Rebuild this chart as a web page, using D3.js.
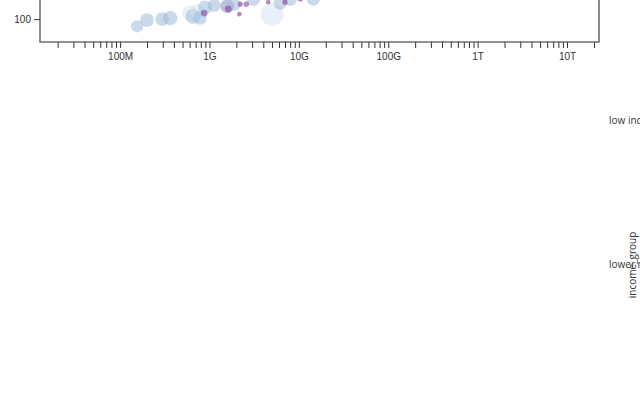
<!DOCTYPE html>
<html lang="en">
<head>
  <meta charset="UTF-8" />
  <title>GDP bubbles by income group</title>
  <style>
    html, body { margin: 0; padding: 0; background: #fff; overflow: hidden; }
    svg { display: block; font-family: "Open Sans", "Noto Sans", sans-serif; }
  </style>
</head>
<body>
  <script src="https://cdn.jsdelivr.net/npm/d3@7"></script>
  <script>
    // data (low income panel, lower part only visible)
    const gdp = [155e6, 200e6, 295e6, 363e6, 600e6, 656e6, 728e6, 780e6, 872e6, 894e6, 1.13e9, 1.58e9, 1.62e9,
      1.89e9, 2.21e9, 2.58e9, 2.16e9, 3.09e9, 4.54e9, 5.01e9, 6.2e9, 7.0e9, 8.0e9, 10.4e9, 14.5e9];
    const gdpPerCap = [79, 97, 100, 103, 122, 110, 130, 104, 122, 148, 158, 153, 140,
      164, 164, 164, 118, 193, 175, 118, 170, 175, 193, 193, 193];
    const population = [40e6, 50e6, 50e6, 55e6, 60e6, 60e6, 55e6, 50e6, 12e6, 50e6, 45e6, 50e6, 12e6,
      45e6, 7e6, 8e6, 6e6, 50e6, 6e6, 140e6, 45e6, 7e6, 50e6, 7e6, 45e6];
    const tone = ["b", "b", "b", "b", "l", "b", "l", "b", "p", "b", "b", "m", "p",
      "b", "p", "p", "p", "b", "p", "l", "b", "p", "b", "p", "b"];
    const xTicks = [1e8, 1e9, 1e10, 1e11, 1e12, 1e13];
    const xTickLabels = ["100M", "1G", "10G", "100G", "1T", "10T"];
    const yTicks = [100];
    const facets = ["low income", "lower middle income"];

    const width = 640, height = 400;
    const left = 40, right = 599, bottom = 42;

    const x = d3.scaleLog().domain([12.7e6, 22.8e12]).range([left, right]);
    const y = d3.scaleLog().domain([47, 100000]).range([bottom, bottom - 232]);
    const r = d3.scaleSqrt().domain([0, 140e6]).range([0, 11.5]);
    const color = d3.scaleOrdinal().domain(["l", "b", "m", "p"])
      .range(["#d6e2f0", "#9ebcda", "#8c96c6", "#88419d"]);
    const opacity = { l: 0.5, b: 0.55, m: 0.6, p: 0.6 };

    const svg = d3.select("body").append("svg")
      .attr("width", width).attr("height", height);

    const points = gdp.map((g, i) => ({ g, v: gdpPerCap[i], p: population[i], t: tone[i] }));

    svg.append("g")
      .selectAll("circle")
      .data(points.sort((a, b) => b.p - a.p))
      .join("circle")
      .attr("cx", d => x(d.g))
      .attr("cy", d => y(d.v))
      .attr("r", d => r(d.p))
      .attr("fill", d => color(d.t))
      .attr("fill-opacity", d => opacity[d.t]);

    // frame
    svg.append("path")
      .attr("d", `M${left},-5V${bottom}H${right}V-5`)
      .attr("fill", "none")
      .attr("stroke", "#707070")
      .attr("stroke-width", 1.6);

    // x axis, log ticks with minor marks
    const xAxis = d3.axisBottom(x)
      .tickValues(x.ticks().filter(t => t <= x.domain()[1]))
      .tickSize(6)
      .tickFormat(t => {
        const k = xTicks.indexOf(t);
        return k >= 0 ? xTickLabels[k] : "";
      });
    const gx = svg.append("g").attr("transform", `translate(0,${bottom})`).call(xAxis);
    gx.select(".domain").remove();
    gx.selectAll(".tick line").attr("stroke", "#333");
    gx.selectAll(".tick text").attr("font-size", 10).attr("fill", "#333").attr("dy", "0.9em");

    // y axis
    const yAxis = d3.axisLeft(y).tickValues(yTicks).tickSize(6).tickFormat(d3.format("d"));
    const gy = svg.append("g").attr("transform", `translate(${left},0)`).call(yAxis);
    gy.select(".domain").remove();
    gy.selectAll(".tick line").attr("stroke", "#333");
    gy.selectAll(".tick text").attr("font-size", 10).attr("fill", "#333");

    // facet labels on the right
    const fy = d3.scalePoint().domain(facets).range([121, 265]);
    svg.append("g")
      .selectAll("text")
      .data(facets)
      .join("text")
      .attr("x", 609)
      .attr("y", d => fy(d))
      .attr("dy", "0.32em")
      .attr("font-size", 10)
      .attr("fill", "#333")
      .text(d => d);

    svg.append("text")
      .attr("transform", `translate(636,265) rotate(-90)`)
      .attr("text-anchor", "middle")
      .attr("font-size", 10)
      .attr("fill", "#333")
      .text("income_group");
  </script>
</body>
</html>
